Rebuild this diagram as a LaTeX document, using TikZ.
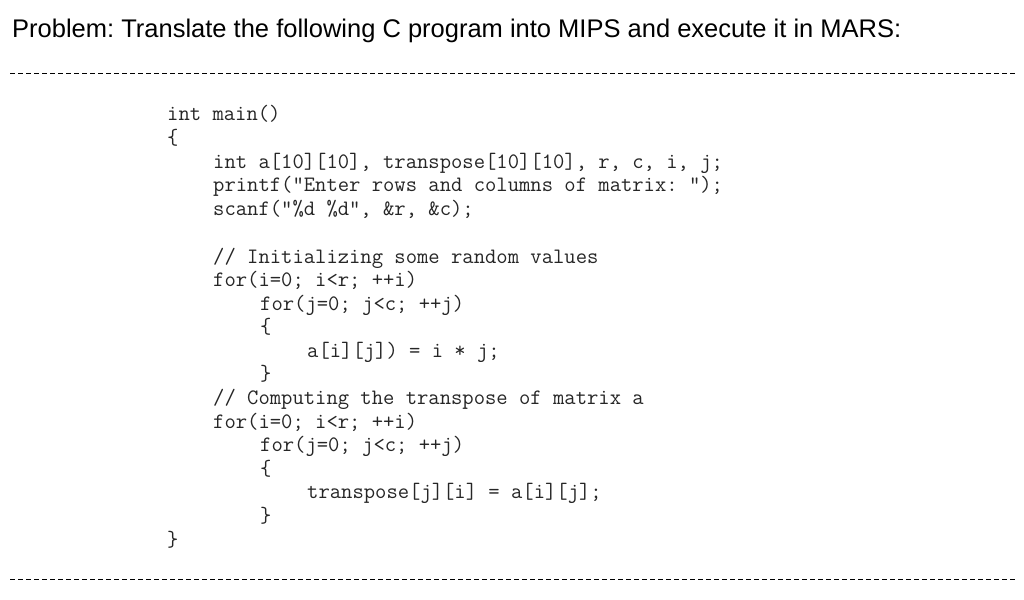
\documentclass[tikz,border=0pt]{standalone}
\usepackage{fontspec}
\setmainfont{Liberation Sans}
\begin{document}
\frenchspacing
\begin{tikzpicture}[x=1pt,y=-1pt,
  code/.style={anchor=base west,inner sep=0pt,font=\fontsize{22}{24}\ttfamily,text=black!85},
  rule/.style={dashed,dash pattern=on 5pt off 3pt,line width=0.8pt}]
\useasboundingbox[fill=white] (0,0) rectangle (1024,599);
\node[anchor=base west,inner sep=0pt,font=\fontsize{25.5}{27}\selectfont] (title) at (12,38) {Problem: Translate the following C program into MIPS and execute it in MARS:};
\coordinate (r1a) at (10,73); \coordinate (r1b) at (1015,73);
\coordinate (r2a) at (10,579); \coordinate (r2b) at (1015,579);
\draw[rule] (r1a) -- (r1b);
\draw[rule] (r2a) -- (r2b);
\node[code] (l1) at (167,121) {int main()};
\node[code] (l2) at (167,144) {\{};
\node[code] (l3) at (213,168) {int a[10][10], transpose[10][10], r, c, i, j;};
\node[code] (l4) at (213,191) {printf("Enter rows and columns of matrix: ");};
\node[code] (l5) at (213,215) {scanf("\%d \%d", \&r, \&c);};
\node[code] (l6) at (213,263) {// Initializing some random values};
\node[code] (l7) at (213,286) {for(i=0; i<r; ++i)};
\node[code] (l8) at (260,310) {for(j=0; j<c; ++j)};
\node[code] (l9) at (260,333) {\{};
\node[code] (l10) at (307,357) {a[i][j]) = i * j;};
\node[code] (l11) at (260,380) {\}};
\node[code] (l12) at (213,404) {// Computing the transpose of matrix a};
\node[code] (l13) at (213,428) {for(i=0; i<r; ++i)};
\node[code] (l14) at (260,451) {for(j=0; j<c; ++j)};
\node[code] (l15) at (260,475) {\{};
\node[code] (l16) at (307,498) {transpose[j][i] = a[i][j];};
\node[code] (l17) at (260,522) {\}};
\node[code] (l18) at (167,546) {\}};
\end{tikzpicture}
\end{document}
